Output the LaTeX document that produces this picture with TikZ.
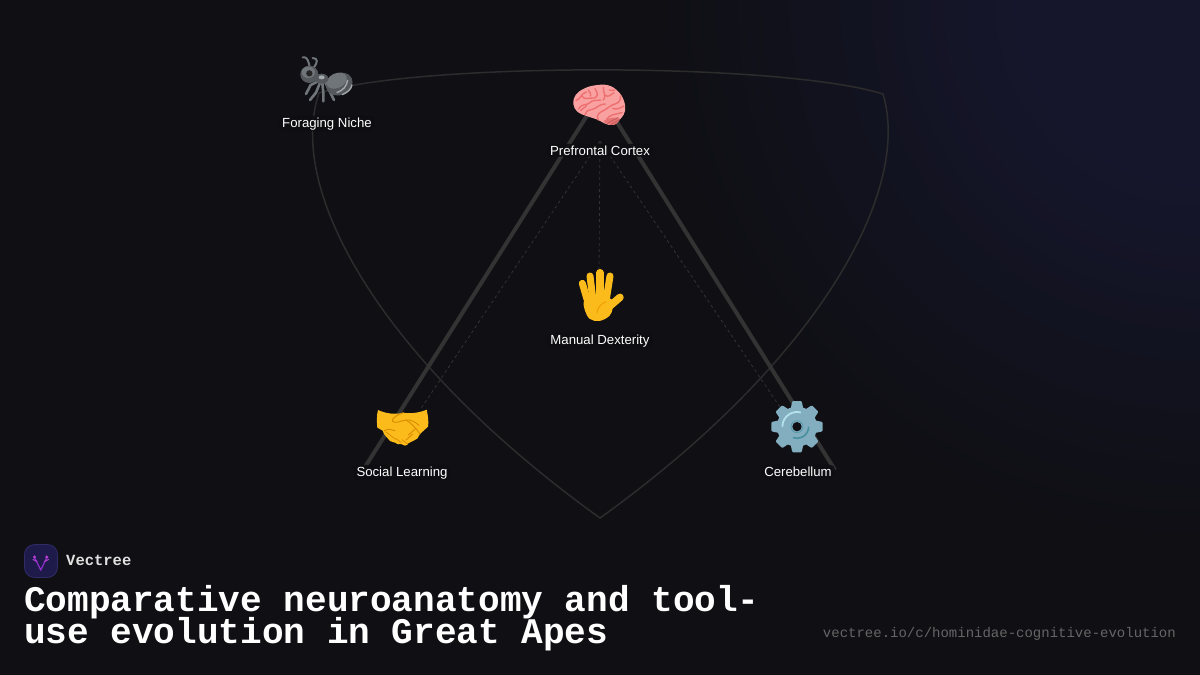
\documentclass[tikz,border=0pt]{standalone}
\usepackage{fontspec}
\setmainfont{Liberation Sans}
\setmonofont{Liberation Mono}
\usetikzlibrary{calc}
\definecolor{bgbase}{HTML}{0F0F14}
\definecolor{bgblue}{HTML}{15162B}
\definecolor{halo}{HTML}{0D0D12}
\definecolor{edgecol}{HTML}{333333}
\definecolor{curvecol}{HTML}{2C2C2C}
\definecolor{antdark}{HTML}{54585B}
\definecolor{antlight}{HTML}{70757A}
\definecolor{antstripe}{HTML}{A3A9AC}
\definecolor{brainpink}{HTML}{F9A1A1}
\definecolor{brainfold}{HTML}{EE6F6F}
\definecolor{brainlow}{HTML}{E57373}
\definecolor{handyel}{HTML}{FBBC1B}
\definecolor{handshade}{HTML}{EE9A00}
\definecolor{shakeline}{HTML}{DB8A00}
\definecolor{gearcol}{HTML}{82AEC0}
\definecolor{gearhi}{HTML}{B5E3EC}
\definecolor{gearlow}{HTML}{46909F}
\definecolor{logofill}{HTML}{1E1B4B}
\definecolor{logoedge}{HTML}{302C66}
\definecolor{logov}{HTML}{8E2DC9}
\definecolor{logodot}{HTML}{B83FD6}
\pgfdeclareradialshading{bgglow}{\pgfpoint{0bp}{0bp}}{color(0bp)=(bgblue);color(6bp)=(bgblue);color(18bp)=(bgbase);color(50bp)=(bgbase)}
\tikzset{
 x=1pt,y=-1pt,
 lab/.style={font=\fontsize{13.2}{16}\selectfont,text=white,anchor=base,inner xsep=3pt,inner ysep=1.5pt,fill=halo,fill opacity=.85,text opacity=1,rounded corners=4pt},
 emojibox/.style={minimum size=52pt,inner sep=0pt},
 hub/.style={line width=4pt,draw=edgecol},
 dashedge/.style={line width=.8pt,draw=edgecol,dash pattern=on 3pt off 3pt},
 shell/.style={line width=1.5pt,draw=curvecol},
 zoomed/.style={x=.33333pt,y=-.33333pt},
}
\begin{document}
\begin{tikzpicture}
\useasboundingbox (0,0) rectangle (1200,675);
\fill[bgbase] (0,0) rectangle (1200,675);
\begin{scope}
\clip (0,0) rectangle (1200,675);
\shade[shading=bgglow] (1200,0) circle (750pt);
\end{scope}
\node[emojibox] (ant) at (327,80) {};
\node[emojibox] (brain) at (599,105) {};
\node[emojibox] (hand) at (599,295) {};
\node[emojibox] (shake) at (402,427) {};
\node[emojibox] (gear) at (797,427) {};
\coordinate (apex) at (600,95);
\coordinate (split) at (600,141);
\coordinate (socialend) at (365,467);
\coordinate (cerebend) at (835,470);
\coordinate (socialdash) at (420,410);
\coordinate (cerebdash) at (782,410);
\coordinate (shellL) at (319,93);
\coordinate (shellR) at (883,94);
\coordinate (shellB) at (600,518);
\draw[shell] (shellL) .. controls (420,62) and (780,62) .. (shellR)
  .. controls (912,190) and (820,360) .. (shellB)
  .. controls (380,360) and (286,190) .. (shellL);
\draw[hub] (apex) -- (socialend);
\draw[hub] (apex) -- (cerebend);
\draw[dashedge] (split) -- (socialdash);
\draw[dashedge] (split) -- (cerebdash);
\draw[dashedge] (split) -- (hand.north);
% labels
\node[lab] (foraging) at (327,127) {Foraging Niche};
\node[lab] (prefrontal) at (600,155) {Prefrontal Cortex};
\node[lab] (manual) at (600,344) {Manual Dexterity};
\node[lab] (social) at (402,476) {Social Learning};
\node[lab] (cerebellum) at (798,476) {Cerebellum};
% ant
\begin{scope}[shift={(270,40)},zoomed]
 \draw[antlight,line width=2pt,line cap=round] (120,85) .. controls (116,65) and (112,48) .. (98,52);
 \draw[antlight,line width=2pt,line cap=round] (132,82) .. controls (142,68) and (146,55) .. (128,54);
 \draw[antlight,line width=2.6pt,line cap=round,line join=round] (148,122) -- (122,135) -- (108,162);
 \draw[antlight,line width=2.6pt,line cap=round,line join=round] (150,128) -- (138,158) -- (120,180);
 \draw[antlight,line width=2.6pt,line cap=round,line join=round] (157,128) -- (160,160) -- (160,184);
 \draw[antlight,line width=2.6pt,line cap=round,line join=round] (165,125) -- (178,152) -- (192,180);
 \fill[antdark] (208,132) ellipse [x radius=41,y radius=33,rotate=25];
 \fill[antlight] (200,122) ellipse [x radius=32,y radius=22,rotate=25];
 \draw[antstripe,line width=1.4pt] (200,158) .. controls (218,152) and (230,140) .. (233,120);
 \draw[antstripe,line width=1.4pt] (216,164) .. controls (232,158) and (244,148) .. (246,134);
 \fill[antdark] (118,103) ellipse [x radius=27,y radius=26];
 \fill[antlight] (115,97) ellipse [x radius=20,y radius=17];
 \fill[black!85] (118,100) circle (9.5);
 \fill[antdark] (155,116) ellipse [x radius=20,y radius=15];
 \fill[antstripe] (155,112) ellipse [x radius=9,y radius=6];
\end{scope}
% brain
\begin{scope}[shift={(270,40)},zoomed]
 \fill[brainpink] plot[smooth cycle,tension=.7] coordinates {(910,192) (917,165) (942,146) (975,136) (1015,136) (1045,155) (1062,183) (1065,213) (1052,236) (1030,255) (1003,250) (985,240) (950,228) (923,216)};
 \fill[brainlow] (1000,243) .. controls (1015,232) and (1040,230) .. (1050,236) .. controls (1045,248) and (1035,256) .. (1028,255) .. controls (1015,254) and (1005,250) .. (1000,243) -- cycle;
 \begin{scope}[brainfold,line width=1.4pt,line cap=round,line join=round]
  \draw (918,182) .. controls (935,175) and (932,160) .. (950,156);
  \draw (935,168) .. controls (945,182) and (958,172) .. (975,174) .. controls (988,166) and (980,155) .. (975,146);
  \draw (925,207) .. controls (935,190) and (950,197) .. (960,188) .. controls (965,180) and (978,182) .. (992,180);
  \draw (945,224) .. controls (950,205) and (965,212) .. (975,205) .. controls (985,200) and (990,192) .. (1006,192);
  \draw (985,240) .. controls (975,225) and (990,217) .. (1000,212) .. controls (1015,205) and (1020,195) .. (1040,190);
  \draw (1005,165) .. controls (1015,174) and (1020,165) .. (1032,158);
  \draw (1000,142) .. controls (1000,160) and (1010,170) .. (1000,180);
  \draw (1010,238) .. controls (1020,222) and (1035,224) .. (1056,218);
  \draw (1040,190) .. controls (1050,185) and (1052,178) .. (1052,168);
  \draw (1028,205) .. controls (1038,210) and (1050,205) .. (1062,198);
  \draw (955,150) .. controls (958,158) and (965,160) .. (962,168);
  \draw (950,195) .. controls (945,205) and (935,205) .. (932,212);
  \draw (1018,150) .. controls (1024,155) and (1026,148) .. (1034,150);
 \end{scope}
 \draw[brainfold!80!black,line width=.6pt] (1012,250) -- (1045,232) (1022,254) -- (1050,238);
\end{scope}
% hand
\begin{scope}[shift={(540,250)},zoomed]
 \draw[handyel,line width=7pt,line cap=round] (127,100) -- (150,178);
 \draw[handyel,line width=7pt,line cap=round] (150,78) -- (160,160);
 \draw[handyel,line width=7.4pt,line cap=round] (180,68) -- (180,160);
 \draw[handyel,line width=7pt,line cap=round] (210,78) -- (197,160);
 \draw[handyel,line width=7.5pt,line cap=round] (240,142) -- (198,178);
 \fill[handyel] plot[smooth cycle,tension=.6] coordinates {(134,150) (175,135) (217,150) (218,175) (208,198) (178,213) (150,207) (135,182)};
 \draw[handshade,line width=.9pt,line cap=round] (171,188) .. controls (172,172) and (185,160) .. (198,155);
\end{scope}
% handshake
\begin{scope}[shift={(340,360)},zoomed]
 \fill[handyel] (114,150) .. controls (135,160) and (165,165) .. (190,158) .. controls (210,162) and (240,158) .. (260,149) .. controls (265,170) and (266,188) .. (264,200) -- (240,222) -- (232,236) -- (205,250) -- (185,253) -- (165,248) -- (150,243) -- (132,222) -- (128,212) -- (112,203) .. controls (110,185) and (110,165) .. (114,150) -- cycle;
 \foreach \cx/\cy in {146/222,160/233,176/242,195/246} {\fill[handyel] (\cx,\cy) circle (11);
   \draw[shakeline,line width=.7pt] (\cx-9,\cy-7) -- (\cx+8,\cy+6);}
 \begin{scope}[shakeline,line width=.9pt,line cap=round,line join=round]
  \draw (190,158) .. controls (170,165) and (155,175) .. (157,184) .. controls (165,192) and (185,182) .. (198,180) .. controls (215,190) and (228,205) .. (240,222);
  \draw (198,180) .. controls (210,178) and (225,185) .. (237,196);
  \draw (228,205) -- (205,225) (218,222) -- (198,240);
  \draw (133,212) .. controls (145,205) and (155,208) .. (165,212);
 \end{scope}
\end{scope}
% gear
\begin{scope}[shift={(700,360)},zoomed]
 \foreach \a in {0,45,...,315} {
  \fill[gearcol,rotate around={\a:(291,200)},rounded corners=1pt] (268,165) -- (277,123) -- (305,123) -- (314,165) -- cycle;}
 \fill[gearcol] (291,200) circle (60);
 \draw[gearhi,line width=1.8pt] (247,200) arc[start angle=180,end angle=285,radius=44];
 \draw[gearlow,line width=1.6pt] (326,200) arc[start angle=0,end angle=110,radius=35];
 \draw[gearlow!70!gearcol,line width=.8pt] (291,200) circle (18);
 \fill[bgbase] (291,200) circle (14);
\end{scope}
% logo
\draw[fill=logofill,draw=logoedge,line width=.8pt,rounded corners=10pt] (24.5,544.5) rectangle (57.5,577.5);
\begin{scope}[line width=1.2pt,line cap=round]
 \draw[logov] (34.5,557.5) -- (40.8,570) -- (46.8,557.5);
 \draw[logodot,line width=1pt] (33,559.5) -- (37,561.5) (48.5,559.5) -- (44.5,561.5);
 \fill[logodot] (34.5,557) circle (1.7) (46.8,557) circle (1.7);
\end{scope}
\node[anchor=base west,inner sep=0pt,text=white!88!black,font=\fontsize{15.5}{18}\ttfamily\bfseries] (brand) at (66,565) {Vectree};
\node[anchor=north west,inner sep=0pt,align=left,text=white,font=\fontsize{36.05}{33}\ttfamily\bfseries] (title) at (24,585.5) {Comparative neuroanatomy and tool-\\[-3pt]use evolution in Great Apes};
\node[anchor=base east,inner sep=0pt,text=white!40!black,font=\fontsize{14}{16}\ttfamily] (url) at (1176,637) {vectree.io/c/hominidae-cognitive-evolution};
\end{tikzpicture}
\end{document}
